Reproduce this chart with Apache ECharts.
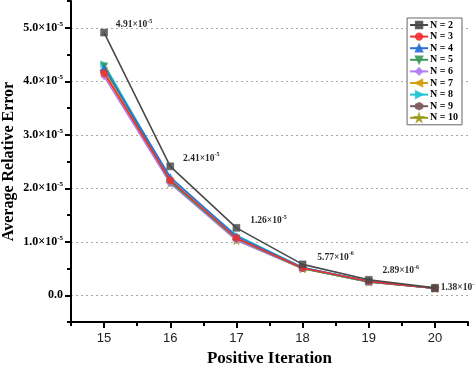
<!DOCTYPE html>
<html><head><meta charset="utf-8">
<script src="https://cdn.jsdelivr.net/npm/echarts@6/dist/echarts.min.js"></script>
<style>html,body{margin:0;padding:0;background:#fff}#c{width:474px;height:365px}</style>
</head><body><div id="c"></div>
<script>
// Data
var iterations = [15, 16, 17, 18, 19, 20];
var seriesNames = ['N = 2','N = 3','N = 4','N = 5','N = 6','N = 7','N = 8','N = 9','N = 10'];
var n2  = [4.91e-5, 2.41e-5, 1.26e-5, 5.77e-6, 2.89e-6, 1.38e-6];
var n3  = [4.15e-5, 2.15e-5, 1.07e-5, 5.1e-6, 2.6e-6, 1.3e-6];
var n4  = [4.25e-5, 2.21e-5, 1.10e-5, 5.2e-6, 2.6e-6, 1.3e-6];
var n5  = [4.28e-5, 2.12e-5, 1.06e-5, 5.0e-6, 2.5e-6, 1.3e-6];
var n6  = [4.09e-5, 2.09e-5, 1.03e-5, 5.0e-6, 2.5e-6, 1.3e-6];
var n7  = [4.20e-5, 2.11e-5, 1.04e-5, 5.0e-6, 2.5e-6, 1.3e-6];
var n8  = [4.32e-5, 2.17e-5, 1.12e-5, 5.2e-6, 2.6e-6, 1.3e-6];
var n9  = [4.19e-5, 2.13e-5, 1.05e-5, 5.1e-6, 2.6e-6, 1.3e-6];
var n10 = [4.18e-5, 2.10e-5, 1.03e-5, 5.0e-6, 2.5e-6, 1.3e-6];
var annotations = ['4.91×10|-5', '2.41×10|-5', '1.26×10|-5', '5.77×10|-6', '2.89×10|-6', '1.38×10|-6'];
var xTicks = [15, 16, 17, 18, 19, 20];
var xMinorTicks = [14.5, 15.5, 16.5, 17.5, 18.5, 19.5, 20.5];
var yTicksE5 = [0, 1, 2, 3, 4, 5];
var yMinorE5 = [-0.5, 0.5, 1.5, 2.5, 3.5, 4.5, 5.5];

var allData = [n2, n3, n4, n5, n6, n7, n8, n9, n10];
var colors = ['#4a4a4a', '#f03030', '#2a6fd8', '#3a9a5a', '#b07ef0', '#d4a010', '#22c4d4', '#7a5a5a', '#9a9a18'];
var starPath = 'path://M50,0 L61,35 L98,35 L68,57 L79,91 L50,70 L21,91 L32,57 L2,35 L39,35 Z';
var hexPath = 'path://M50,0 L93,25 L93,75 L50,100 L7,75 L7,25 Z';
var symbols = ['rect', 'circle', 'triangle', 'triangle', 'diamond', 'triangle', 'triangle', hexPath, starPath];
var rotates = [0, 0, 0, 180, 0, 90, -90, 0, 0];
var serif = '"Liberation Serif","Times New Roman",serif';
var sans = '"Liberation Sans",Arial,sans-serif';

function fmtE5(v) {
  var m = Math.round(v * 1e6) / 10;
  if (Math.abs(m) < 1e-9) return '{a|0.0}';
  return '{a|' + m.toFixed(1) + '×10}{s|-5}';
}

var offsets = [[3, -8], [4, -8], [5, -7], [6, -7], [5, -9], [-3, 0]];

var series = allData.map(function (arr, i) {
  var s = {
    name: seriesNames[i],
    type: 'line',
    xAxisIndex: 0, yAxisIndex: 0,
    data: arr.map(function (v, j) {
      var d = { value: [iterations[j], v] };
      if (i === 0) {
        var parts = annotations[j].split('|');
        d.label = {
          show: true, position: 'right', offset: offsets[j],
          formatter: '{t|' + parts[0] + '}{u|' + parts[1] + '}'
        };
      }
      return d;
    }),
    symbol: symbols[i],
    symbolRotate: rotates[i],
    symbolSize: (i === 8 ? 9 : 7),
    z: 10 - i,
    lineStyle: { color: colors[i], width: 1.6 },
    itemStyle: { color: colors[i], opacity: 0.85, borderColor: colors[i], borderWidth: 0.5 },
    label: {
      show: false,
      rich: {
        t: { fontFamily: serif, fontWeight: 'bold', fontSize: 9.5, color: '#000' },
        u: { fontFamily: serif, fontWeight: 'bold', fontSize: 6, color: '#000', padding: [0, 0, 7, 0] }
      }
    },
    emphasis: { disabled: true },
    animation: false
  };
  return s;
});

var gridBox = { left: 71, right: 6, top: 1, bottom: 43, containLabel: false, outerBoundsMode: 'none' };

var chart = echarts.init(document.getElementById('c'), null, { renderer: 'canvas' });
chart.setOption({
  animation: false,
  backgroundColor: '#fff',
  grid: [Object.assign({}, gridBox), Object.assign({}, gridBox)],
  legend: {
    orient: 'vertical', right: 12, top: 18,
    data: seriesNames,
    itemWidth: 18, itemHeight: 8, itemGap: 1.6,
    padding: [2, 4, 2, 2],
    borderColor: '#666', borderWidth: 1, backgroundColor: '#fff',
    textStyle: { fontFamily: serif, fontWeight: 'bold', fontSize: 10, color: '#000', lineHeight: 9, padding: [0, 0, 0, -3] }
  },
  xAxis: [{
    gridIndex: 0,
    type: 'value', min: 14.5, max: 20.5,
    name: 'Positive Iteration', nameLocation: 'middle', nameGap: 28, nameMoveOverlap: false,
    nameTextStyle: { fontFamily: serif, fontWeight: 'bold', fontSize: 17, color: '#000' },
    axisLine: { show: true, onZero: false, lineStyle: { color: '#000', width: 2 } },
    axisTick: { show: true, inside: false, length: 6, lineStyle: { color: '#000', width: 2 }, customValues: xTicks },
    axisLabel: { customValues: xTicks, margin: 10, fontFamily: sans, fontSize: 13, color: '#222' },
    splitLine: { show: false }
  }, {
    gridIndex: 1,
    type: 'value', min: 14.5, max: 20.5, position: 'bottom',
    axisLine: { show: false, onZero: false },
    axisTick: { show: true, length: 4, lineStyle: { color: '#000', width: 2 }, customValues: xMinorTicks },
    axisLabel: { show: false },
    splitLine: { show: false }
  }],
  yAxis: [{
    gridIndex: 0,
    type: 'value', min: -0.5e-5, max: 5.5e-5,
    name: 'Average Relative Error', nameLocation: 'middle', nameGap: 54, nameMoveOverlap: false,
    nameTextStyle: { fontFamily: serif, fontWeight: 'bold', fontSize: 16, color: '#000' },
    axisLine: { show: true, onZero: false, lineStyle: { color: '#000', width: 2 } },
    axisTick: { show: true, length: 6, lineStyle: { color: '#000', width: 2 }, customValues: yTicksE5.map(function (v) { return v * 1e-5; }) },
    axisLabel: {
      customValues: yTicksE5.map(function (v) { return v * 1e-5; }),
      margin: 8,
      formatter: fmtE5,
      rich: {
        a: { fontFamily: serif, fontWeight: 'bold', fontSize: 12, color: '#000' },
        s: { fontFamily: serif, fontWeight: 'bold', fontSize: 7, color: '#000', padding: [0, 0, 8, 0] }
      }
    },
    splitLine: { show: true, lineStyle: { color: '#aaa', width: 1, type: [2, 3] } }
  }, {
    gridIndex: 1,
    type: 'value', min: -0.5e-5, max: 5.5e-5, position: 'left',
    axisLine: { show: false, onZero: false },
    axisTick: { show: true, length: 4, lineStyle: { color: '#000', width: 2 }, customValues: yMinorE5.map(function (v) { return v * 1e-5; }) },
    axisLabel: { show: false },
    splitLine: { show: false }
  }],
  series: series
});
</script>
</body></html>
